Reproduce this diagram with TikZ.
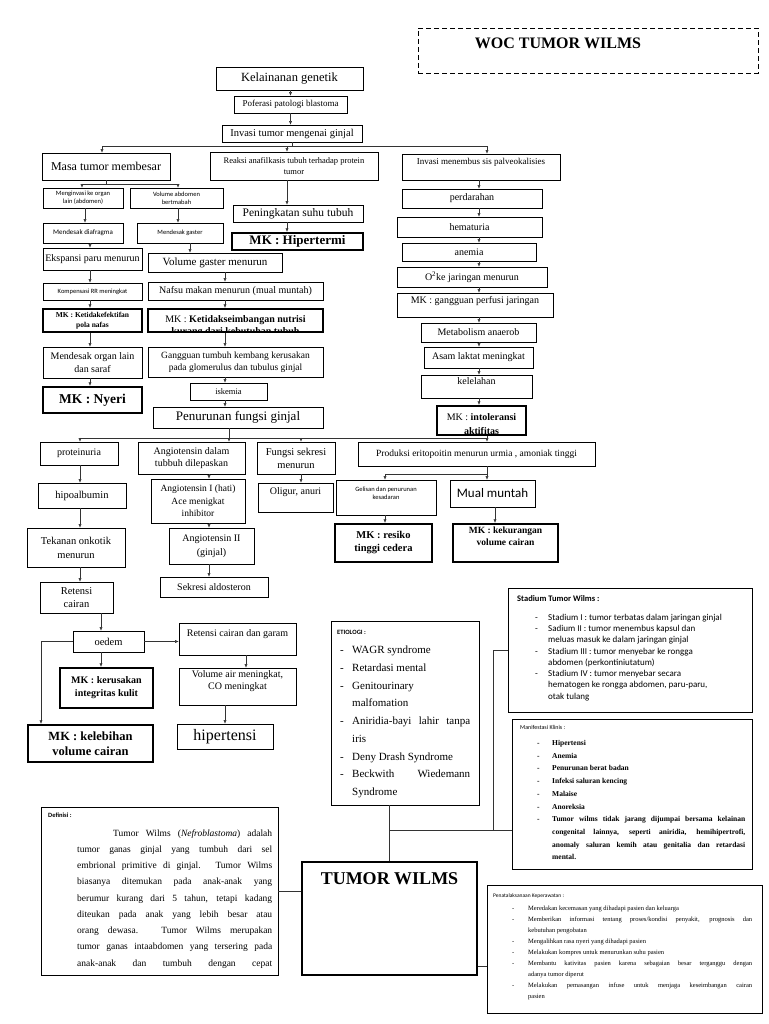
\documentclass[tikz,border=0pt]{standalone}
\usepackage{fontspec}
\setmainfont{Liberation Serif}
\newfontfamily\calib{Carlito}
\usetikzlibrary{arrows.meta}
\newcommand\fs[2]{\fontsize{#1}{#2}\selectfont}
\newcommand\bx[7][]{\node[box,#1,minimum width={(#5)-(#3)},minimum height={(#6)-(#4)}] (#2) at ({((#3)+(#5))/2},{((#4)+(#6))/2}) {#7};}
\newcommand\va[3]{\draw[arr] (#1.south -| #3) -- (#2.north -| #3);}
\newcommand\tl[4]{\node[anchor=base west,inner sep=0pt] (#1) at (#2,#3) {#4};}
\begin{document}
\begin{tikzpicture}[x=1pt,y=-1pt,
 box/.style={draw,line width=0.6pt,inner sep=1pt,align=center},
 thk/.style={line width=2.2pt},
 arr/.style={-{Latex[length=3.5pt,width=3pt]},line width=0.45pt,black!80},
 ln/.style={line width=0.45pt,black!80}]
\useasboundingbox (0,0) rectangle (768,1024);
\fill[white] (0,0) rectangle (768,1024);
% x reference coordinates
\foreach \v in {80,85,90,101,178,190,209,225,229,246,287,301,385,479,487,493,495}{\coordinate (X\v) at (\v,0);}
% title
\bx[dashed,dash pattern=on 5pt off 3pt,line width=0.7pt]{woc}{418}{28}{758}{73}{}
\node[font=\bfseries\fs{16}{18}] (woct) at (558,43) {WOC TUMOR WILMS};
% top chain
\bx[font=\fs{12.5}{14}]{kel}{216}{67}{363}{90}{Kelainanan genetik}
\bx[font=\fs{9}{10}]{pof}{234}{96}{347}{113}{Poferasi patologi blastoma}
\bx[font=\fs{10.5}{12}]{inv}{222}{125}{362}{142}{Invasi tumor mengenai ginjal}
\bx[font=\fs{12}{14}]{masa}{42}{153}{170}{180}{Masa tumor membesar}
\bx[font=\fs{8.5}{10.5}]{reak}{210}{152}{378}{180}{Reaksi anafilkasis tubuh terhadap protein\\tumor}
\bx[font=\fs{9}{11}]{invm}{402}{154}{560}{180}{Invasi menembus sis palveokalisies\\\mbox{}}
% right column
\bx[font=\fs{10}{12}]{perd}{402}{189}{542}{208}{perdarahan}
\bx[font=\fs{10}{12}]{hema}{397}{217}{542}{237}{hematuria}
\bx[font=\fs{10}{12}]{anem}{402}{243}{536}{261}{anemia}
\bx[font=\fs{10}{12}]{otwo}{397}{267}{547}{287}{O\textsuperscript{2}ke jaringan menurun}
\bx[font=\fs{10}{11}]{mkperf}{397}{293}{553}{317}{MK : gangguan perfusi jaringan\\\mbox{}}
\bx[font=\fs{10}{12}]{meta}{421}{323}{536}{342}{Metabolism anaerob}
\bx[font=\fs{10}{12}]{asam}{424}{347}{533}{368}{Asam laktat meningkat}
\bx[font=\fs{10}{11}]{lel}{421}{375}{532}{398}{kelelahan\\\mbox{}}
\begin{scope}
\clip (437,406) rectangle (526,435);
\node[inner sep=0pt,align=center,font=\fs{10}{14}] (mkintt) at (481.5,424) {MK : \textbf{intoleransi}\\\textbf{aktifitas}};
\end{scope}
\bx[thk]{mkint}{437}{406}{526}{435}{}
% left column
\bx[font=\calib\fs{6.5}{8}]{mgi}{43}{188}{123}{208}{Menginvasi ke organ\\lain (abdomen)}
\bx[font=\calib\fs{6.5}{8}]{vab}{130}{188}{223}{208}{Volume abdomen\\bertmabah}
\bx[font=\calib\fs{7}{8}]{mdi}{43}{223}{123}{243}{Mendesak diafragma}
\bx[font=\calib\fs{6.5}{8}]{mgas}{137}{223}{223}{243}{Mendesak gaster}
\bx[font=\fs{10}{12}]{eksp}{43}{248}{142}{270}{Ekspansi paru menurun}
\bx[font=\calib\fs{6.5}{8}]{komp}{43}{283}{142}{300}{Kompensasi RR meningkat}
\bx[thk,font=\bfseries\fs{7.5}{10}]{mkpola}{43}{309}{142}{332}{MK : Ketidakefektifan\\pola nafas}
\bx[font=\fs{10}{13}]{mdo}{43}{347}{142}{378}{Mendesak organ lain\\dan saraf}
\bx[thk,font=\bfseries\fs{13.5}{15}]{mkny}{43}{387}{142}{413}{MK : Nyeri}
% middle column
\bx[font=\fs{11.5}{13}]{suhu}{233}{205}{363}{222}{Peningkatan suhu tubuh}
\bx[thk,font=\bfseries\fs{13}{14}]{mkhip}{232}{233}{363}{250}{MK : Hipertermi}
\bx[font=\fs{11}{13}]{vgas}{148}{253}{282}{272}{Volume gaster menurun}
\bx[font=\fs{10}{12}]{nafsu}{148}{282}{323}{300}{Nafsu makan menurun (mual muntah)}
\begin{scope}
\clip (148,309) rectangle (323,332);
\node[inner sep=0pt,align=center,font=\fs{10}{12.5}] (mknutt) at (235.5,326) {MK : \textbf{Ketidakseimbangan nutrisi}\\\textbf{kurang dari kebutuhan tubuh}};
\end{scope}
\bx[thk]{mknut}{148}{309}{323}{332}{}
\bx[font=\fs{9.5}{12}]{gang}{148}{347}{323}{377}{Gangguan tumbuh kembang kerusakan\\pada glomerulus dan tubulus ginjal}
\bx[font=\fs{8.5}{10}]{isk}{190}{383}{267}{400}{iskemia}
\bx[font=\fs{13}{14}]{pen}{153}{407}{323}{428}{Penurunan fungsi ginjal}
% second level
\bx[font=\fs{10}{12}]{prot}{40}{442}{118}{465}{proteinuria}
\bx[font=\fs{10}{12.5}]{angd}{138}{442}{245}{474}{Angiotensin dalam\\tubbuh dilepaskan}
\bx[font=\fs{10.5}{13}]{fung}{257}{442}{335}{474}{Fungsi sekresi\\menurun}
\bx[font=\fs{9.5}{11}]{prod}{358}{442}{595}{466}{Produksi eritopoitin menurun urmia , amoniak tinggi}
\bx[font=\fs{10.5}{12}]{hipo}{38}{483}{126}{508}{hipoalbumin}
\bx[font=\fs{9.5}{12.5}]{ang1}{151}{479}{245}{523}{Angiotensin I (hati)\\Ace menigkat\\inhibitor}
\bx[font=\fs{10}{12}]{olig}{258}{483}{333}{512}{Oligur, anuri\\\mbox{}}
\bx[font=\calib\fs{6.5}{8}]{geli}{336}{480}{436}{515}{Gelisan dan penurunan\\kesadaran\\\mbox{}}
\bx[font=\calib\fs{13}{15}]{mual}{450}{480}{535}{507}{Mual muntah}
\bx[font=\fs{10.5}{14}]{tek}{27}{528}{125}{567}{Tekanan onkotik\\menurun}
\bx[font=\fs{10}{14}]{ang2}{169}{528}{254}{564}{Angiotensin II\\(ginjal)}
\bx[thk,font=\bfseries\fs{10.5}{13}]{mkres}{335}{524}{432}{562}{MK : resiko\\tinggi cedera}
\bx[thk,font=\bfseries\fs{9.5}{12}]{mkkur}{453}{524}{558}{562}{MK : kekurangan\\volume cairan\\[1pt]\mbox{}}
\bx[font=\fs{10}{12}]{sekr}{160}{577}{268}{597}{Sekresi aldosteron}
\bx[font=\fs{10.5}{13}]{ret}{40}{582}{113}{613}{Retensi\\cairan}
% bottom left
\bx[font=\fs{10.5}{12}]{oed}{73}{631}{144}{652}{oedem}
\bx[font=\fs{10}{12}]{retg}{179}{623}{296}{655}{Retensi cairan dan garam\\\mbox{}}
\bx[thk,font=\bfseries\fs{10}{13}]{mkker}{60}{668}{153}{708}{MK : kerusakan\\integritas kulit}
\bx[font=\fs{10}{12.5}]{vair}{179}{668}{296}{705}{Volume air meningkat,\\CO meningkat\\\mbox{}}
\bx[font=\fs{16}{17}]{hip}{177}{724}{273}{749}{hipertensi}
\bx[thk,font=\bfseries\fs{12.5}{15}]{mkkel}{28}{725}{153}{762}{MK : kelebihan\\volume cairan}
% info boxes
\bx{etio}{331}{621}{479}{805}{}
\bx{stad}{508}{588}{752}{712}{}
\bx{mani}{512}{719}{752}{869}{}
\bx{defi}{41}{807}{278}{975}{}
\bx[line width=1.8pt]{tw}{302}{862}{477}{975}{}
\bx{pena}{487}{885}{762}{1013}{}
\node[font=\bfseries\fs{18}{20}] (twt) at (389.5,879) {TUMOR WILMS};
% etiologi
\node[anchor=base west,inner sep=0pt,font=\calib\bfseries\fs{6.5}{8}] (etit) at (337,634) {ETIOLOGI :};
\begin{scope}[every node/.append style={font=\fs{11}{13}}]
\tl{e1}{340}{653.5}{\makebox[12pt][l]{-}WAGR syndrome}
\tl{e2}{340}{671.5}{\makebox[12pt][l]{-}Retardasi mental}
\tl{e3}{340}{689.5}{\makebox[12pt][l]{-}Genitourinary}
\tl{e4}{352}{706.5}{malfomation}
\tl{e5}{340}{724.5}{\makebox[12pt][l]{-}\makebox[118pt][s]{Aniridia-bayi lahir tanpa}}
\tl{e6}{352}{742.5}{iris}
\tl{e7}{340}{760.5}{\makebox[12pt][l]{-}Deny Drash Syndrome}
\tl{e8}{340}{777.5}{\makebox[12pt][l]{-}\makebox[118pt][s]{Beckwith Wiedemann}}
\tl{e9}{352}{795.5}{Syndrome}
\end{scope}
% stadium
\node[anchor=base west,inner sep=0pt,font=\calib\bfseries\fs{8.5}{10}] (stt) at (517,601) {Stadium Tumor Wilms :};
\begin{scope}[every node/.append style={font=\calib\fs{9}{11}}]
\tl{s1}{535}{620}{\makebox[13pt][l]{-}Stadium I : tumor terbatas dalam jaringan ginjal}
\tl{s2}{535}{631}{\makebox[13pt][l]{-}Sadium II : tumor menembus kapsul dan}
\tl{s3}{548}{642}{meluas masuk ke dalam jaringan ginjal}
\tl{s4}{535}{654}{\makebox[13pt][l]{-}Stadium III : tumor menyebar ke rongga}
\tl{s5}{548}{665}{abdomen (perkontiniutatum)}
\tl{s6}{535}{676}{\makebox[13pt][l]{-}Stadium IV : tumor menyebar secara}
\tl{s7}{548}{687}{hematogen ke rongga abdomen, paru-paru,}
\tl{s8}{548}{699}{otak tulang}
\end{scope}
% manifestasi
\node[anchor=base west,inner sep=0pt,font=\calib\fs{6}{7}] (mat) at (520,729.5) {Manifestasi Klinis :};
\begin{scope}[every node/.append style={font=\bfseries\fs{7.5}{9}}]
\tl{m1}{537}{745.5}{\makebox[15pt][l]{-}Hipertensi}
\tl{m2}{537}{758.2}{\makebox[15pt][l]{-}Anemia}
\tl{m3}{537}{770.9}{\makebox[15pt][l]{-}Penurunan berat badan}
\tl{m4}{537}{783.6}{\makebox[15pt][l]{-}Infeksi saluran kencing}
\tl{m5}{537}{796.3}{\makebox[15pt][l]{-}Malaise}
\tl{m6}{537}{809}{\makebox[15pt][l]{-}Anoreksia}
\tl{m7}{537}{821.7}{\makebox[15pt][l]{-}\makebox[193pt][s]{Tumor wilms tidak jarang dijumpai bersama kelainan}}
\tl{m8}{552}{834.4}{\makebox[193pt][s]{congenital lainnya, seperti aniridia, hemihipertrofi,}}
\tl{m9}{552}{847.1}{\makebox[193pt][s]{anomaly saluran kemih atau genitalia dan retardasi}}
\tl{m10}{552}{859.8}{mental.}
\end{scope}
% definisi
\node[anchor=base west,inner sep=0pt,font=\calib\bfseries\fs{6.5}{8}] (det) at (48,817.5) {Definisi :};
\begin{scope}[every node/.append style={font=\fs{9.5}{11}}]
\tl{d1}{113}{836}{\makebox[159pt][s]{Tumor Wilms (\textit{Nefroblastoma}) adalah}}
\tl{d2}{77}{852.3}{\makebox[195pt][s]{tumor ganas ginjal yang tumbuh dari sel}}
\tl{d3}{77}{868.5}{\makebox[195pt][s]{embrional primitive di ginjal. Tumor Wilms}}
\tl{d4}{77}{884.8}{\makebox[195pt][s]{biasanya ditemukan pada anak-anak yang}}
\tl{d5}{77}{901}{\makebox[195pt][s]{berumur kurang dari 5 tahun, tetapi kadang}}
\tl{d6}{77}{917.3}{\makebox[195pt][s]{diteukan pada anak yang lebih besar atau}}
\tl{d7}{77}{933.5}{\makebox[195pt][s]{orang dewasa. Tumor Wilms merupakan}}
\tl{d8}{77}{949.8}{\makebox[195pt][s]{tumor ganas intaabdomen yang tersering pada}}
\tl{d9}{77}{966}{\makebox[195pt][s]{anak-anak dan tumbuh dengan cepat}}
\end{scope}
% penatalaksanaan
\node[anchor=base west,inner sep=0pt,font=\calib\fs{5.5}{7}] (pet) at (493,897) {Penatalaksanaan Keperawatan :};
\begin{scope}[every node/.append style={font=\fs{6.5}{8}}]
\tl{p1}{512}{910}{\makebox[16pt][l]{-}Meredakan kecemasan yang dihadapi pasien dan keluarga}
\tl{p2}{512}{921.1}{\makebox[16pt][l]{-}\makebox[224pt][s]{Memberikan informasi tentang proses/kondisi penyakit, prognosis dan}}
\tl{p3}{528}{932.2}{kebutuhan pengobatan}
\tl{p4}{512}{943.3}{\makebox[16pt][l]{-}Mengalihkan rasa nyeri yang dihadapi pasien}
\tl{p5}{512}{954.4}{\makebox[16pt][l]{-}Melakukan kompres untuk menurunkan suhu pasien}
\tl{p6}{512}{965.5}{\makebox[16pt][l]{-}\makebox[224pt][s]{Membantu kativitas pasien karena sebagaian besar terganggu dengan}}
\tl{p7}{528}{976.6}{adanya tumor diperut}
\tl{p8}{512}{987.7}{\makebox[16pt][l]{-}\makebox[224pt][s]{Melakukan pemasangan infuse untuk menjaga keseimbangan cairan}}
\tl{p9}{528}{998.8}{pasien}
\end{scope}
% ---------- connectors ----------
\draw[arr] (kel.south -| pof.north) -- (pof.north);
\draw[arr] (pof.south) -- (pof.south |- inv.north);
\coordinate (hL) at (102,146.5);
\coordinate (hM) at (287,146.5);
\coordinate (hR) at (487,146.5);
\draw[ln] (inv.south) -- (inv.south |- hL);
\draw[ln] (hL) -- (hR);
\draw[arr] (hL) -- (masa.north -| hL);
\draw[arr] (hM) -- (reak.north -| hM);
\draw[arr] (hR) -- (invm.north -| hR);
\coordinate (mL) at (82,184);
\coordinate (mR) at (178,184);
\draw[ln] (masa.south) -- (masa.south |- mL);
\draw[ln] (mL) -- (mR);
\draw[arr] (mL) -- (mgi.north -| mL);
\draw[arr] (mR) -- (vab.north -| mR);
\va{mgi}{mdi}{X85}
\va{vab}{mgas}{X178}
\va{mdi}{eksp}{X90}
\va{mgas}{vgas}{X190}
\va{eksp}{komp}{X90}
\va{komp}{mkpola}{X90}
\va{mkpola}{mdo}{X90}
\va{mdo}{mkny}{X90}
\va{reak}{suhu}{X287}
\va{suhu}{mkhip}{X287}
\va{vgas}{nafsu}{X225}
\va{nafsu}{mknut}{X225}
\va{mknut}{gang}{X225}
\va{gang}{isk}{X225}
\va{isk}{pen}{X225}
\va{invm}{perd}{X479}
\va{perd}{hema}{X479}
\va{hema}{anem}{X479}
\va{anem}{otwo}{X479}
\va{otwo}{mkperf}{X479}
\va{mkperf}{meta}{X479}
\va{meta}{asam}{X479}
\va{asam}{lel}{X479}
\va{lel}{mkint}{X479}
% level 2
\coordinate (rL) at (80,437.8);
\coordinate (rR) at (487,437.8);
\draw[arr] (pen.south -| X229) -- (angd.north -| X229);
\draw[ln] (rL) -- (rR);
\draw[arr] (rL) -- (prot.north -| rL);
\draw[arr] (X301 |- rL) -- (fung.north -| X301);
\draw[arr] (mkint.south -| rR) -- (prod.north -| rR);
\coordinate (gL) at (385,474.5);
\coordinate (gR) at (487,474.5);
\draw[ln] (prod.south -| gR) -- (gR);
\draw[ln] (gL) -- (gR);
\draw[arr] (gL) -- (geli.north -| gL);
\draw[arr] (gR) -- (mual.north -| gR);
\va{geli}{mkres}{X385}
\va{mual}{mkkur}{X495}
\va{prot}{hipo}{X80}
\va{hipo}{tek}{X80}
\va{tek}{ret}{X80}
\va{ret}{oed}{X101}
\va{angd}{ang1}{X209}
\va{ang1}{ang2}{X209}
\va{ang2}{sekr}{X209}
\va{fung}{olig}{X301}
% oedem
\draw[arr] (oed.east) -- (oed.east -| retg.west);
\coordinate (oL) at (41,641.5);
\draw[ln] (oed.west) -- (oed.west -| oL);
\draw[arr] (oed.west -| oL) -- (mkkel.north -| oL);
\va{oed}{mkker}{X101}
\va{retg}{vair}{X246}
\va{vair}{hip}{X225}
% bottom
\coordinate (c830) at (0,830);
\coordinate (c966) at (0,966);
\draw[ln] (etio.south -| tw.north) -- (tw.north);
\draw[ln] (tw.north |- c830) -- (mani.west |- c830);
\draw[ln] (X493 |- c830) -- (X493 |- stad.west) -- (stad.west);
\draw[ln] (defi.east) -- (defi.east -| tw.west);
\draw[ln] (tw.east |- c966) -- (pena.west |- c966);
\end{tikzpicture}
\end{document}
